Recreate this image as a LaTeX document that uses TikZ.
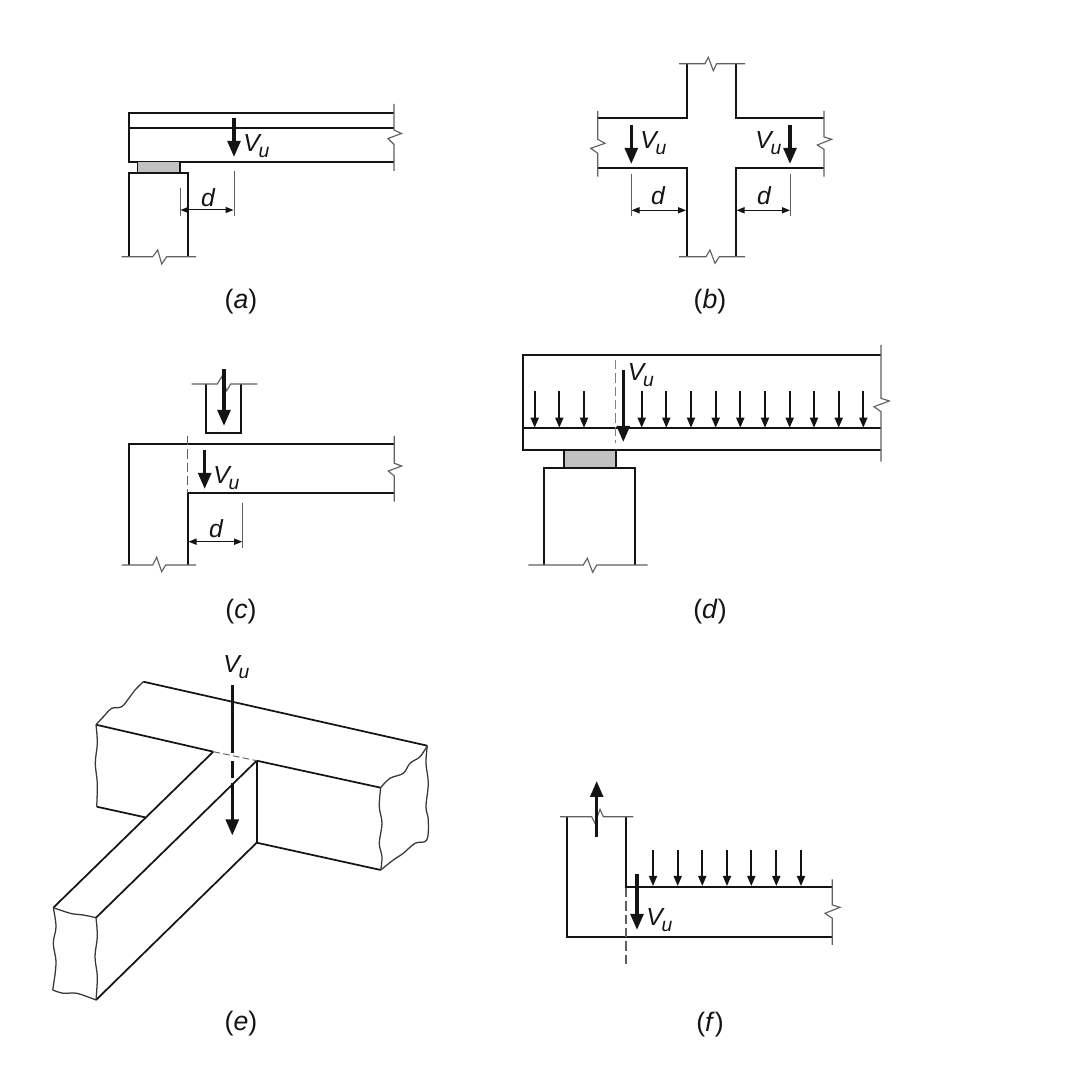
\documentclass[tikz,border=0pt]{standalone}
\usepackage{fontspec}
\setmainfont{Liberation Sans}
\usetikzlibrary{arrows.meta}
\definecolor{ink}{HTML}{141414}
\definecolor{thingray}{HTML}{606060}
\definecolor{platefill}{HTML}{C2C2C2}
\newcommand{\Vsub}{{\itshape V\kern-0.8pt\raisebox{-4.5pt}{\fontsize{14.5}{14.5}\selectfont u}}}
\tikzset{
  member/.style={draw=ink,line width=1.6pt,line join=miter},
  thinbreak/.style={draw=thingray,line width=0.85pt,line join=miter},
  extline/.style={draw=thingray,line width=0.75pt},
  dimline/.style={draw=ink,line width=0.75pt,{Triangle[length=6pt,width=4.6pt]}-{Triangle[length=6pt,width=4.6pt]}},
  vload/.style={draw=ink,line width=2.5pt,-{Triangle[length=12pt,width=9.5pt]}},
  udl/.style={draw=ink,line width=1.3pt,-{Triangle[length=7.5pt,width=6pt]}},
  cutline/.style={draw=thingray,line width=0.85pt,dash pattern=on 7pt off 3pt},
  lbl/.style={font=\fontsize{18.5}{18.5}\selectfont,inner sep=0pt,text=ink},
  caplbl/.style={font=\fontsize{20}{20}\selectfont,inner sep=0pt,text=ink},
  vlbl/.style={lbl,anchor=base west},
  iso/.style={draw=ink,line width=1.3pt,line join=round},
  wavy/.style={draw=ink!85,line width=0.95pt,smooth,tension=0.6}
}
\begin{document}
\begin{tikzpicture}[x=0.75pt,y=-0.75pt]
\useasboundingbox (0,0) rectangle (1076,1069);
\fill[white] (0,0) rectangle (1076,1069);

% ---------- (a)
\draw[member] (394,112.7) -- (129,112.7) -- (129,161.7) -- (394,161.7);
\draw[member] (129,127.7) -- (394,127.7);
\draw[thinbreak] (394,104) -- (394,130) -- (401.5,133.5) -- (388,138.5) -- (394,144.5) -- (394,171);
\draw[member,fill=platefill,line width=1.1pt] (137.5,161.7) rectangle (180,173);
\draw[member] (129,256.7) -- (129,173) -- (187.7,173) -- (187.7,256.7);
\draw[thinbreak] (121.5,256.7) -- (152.7,256.7) -- (157.7,250) -- (161.7,264) -- (166.7,256.7) -- (196,256.7);
\draw[vload] (234,118) -- (234,157);
\node[vlbl] (Va) at (243,152) {\Vsub};
\draw[extline] (180,188) -- (180,216);
\draw[extline] (234,171) -- (234,216);
\draw[dimline] (180.5,210) -- (233.5,210);
\node[lbl] (da) at (208,198) {\itshape d};
\node[caplbl] (la) at (241,302) {(\textit{a})};

% ---------- (b)
\draw[member] (597.7,118.3) -- (686.7,118.3) -- (686.7,63.7);
\draw[member] (735.7,63.7) -- (735.7,118.3) -- (824,118.3);
\draw[member] (597.7,167.7) -- (686.7,167.7) -- (686.7,256.7);
\draw[member] (735.7,256.7) -- (735.7,167.7) -- (824,167.7);
\draw[thinbreak] (597.7,111) -- (597.7,139.3) -- (605,143.3) -- (590.7,148.3) -- (597.7,153.3) -- (597.7,176.7);
\draw[thinbreak] (824,111) -- (824,137) -- (831.7,139.3) -- (817.3,145) -- (824,149.3) -- (824,176.7);
\draw[thinbreak] (679,63.7) -- (705,63.7) -- (708.3,57.3) -- (713.3,70.7) -- (716.7,63.7) -- (745,63.7);
\draw[thinbreak] (679,256.7) -- (706,256.7) -- (710,250) -- (715,263.3) -- (719.3,256.7) -- (745,256.7);
\draw[vload] (631.3,125) -- (631.3,164);
\draw[vload] (790,125) -- (790,164);
\node[vlbl] (Vb1) at (640,149) {\Vsub};
\node[vlbl] (Vb2) at (755,149) {\Vsub};
\draw[extline] (631.3,174.3) -- (631.3,216);
\draw[extline] (790,174.3) -- (790,216);
\draw[dimline] (631.5,210.3) -- (686,210.3);
\draw[dimline] (736.5,210.3) -- (790,210.3);
\node[lbl] (db1) at (658,196) {\itshape d};
\node[lbl] (db2) at (764,196) {\itshape d};
\node[caplbl] (lb) at (710,302) {(\textit{b})};

% ---------- (c)
\draw[member] (206,384) -- (206,433.3) -- (241,433.3) -- (241,384);
\draw[thinbreak] (191.7,384) -- (217.3,384) -- (221.7,376.7) -- (226.7,390.7) -- (230.7,384) -- (257.3,384);
\draw[vload] (224,369.3) -- (224,426);
\draw[member] (129,565) -- (129,444) -- (394,444);
\draw[member] (187.7,565) -- (187.7,493.3) -- (394,493.3);
\draw[thinbreak] (394.3,436) -- (394.3,463.3) -- (401.7,466) -- (388.3,471) -- (394.3,476) -- (394.3,501.7);
\draw[thinbreak] (121.7,565) -- (152.7,565) -- (156.7,557.3) -- (161.7,571.7) -- (165.7,565) -- (196,565);
\draw[cutline] (187.7,436) -- (187.7,493);
\draw[vload] (204.7,450) -- (204.7,489);
\node[vlbl] (Vc) at (213,484) {\Vsub};
\draw[extline] (242.7,502.7) -- (242.7,547.7);
\draw[dimline] (188.5,541.7) -- (242.2,541.7);
\node[lbl] (dc) at (216,529) {\itshape d};
\node[caplbl] (lc) at (241,612) {(\textit{c})};

% ---------- (d)
\draw[member] (881,355.3) -- (523,355.3) -- (523,449.7) -- (881,449.7);
\draw[member] (523,428.3) -- (881,428.3);
\draw[thinbreak] (881,345) -- (881,398.3) -- (889.3,401) -- (874,406.7) -- (881,411.7) -- (881,461.7);
\draw[member,fill=platefill] (564,449.7) rectangle (615.7,467.7);
\draw[member] (544.3,565) -- (544.3,467.7) -- (634.7,467.7) -- (634.7,565);
\draw[thinbreak] (528.3,565) -- (583.3,565) -- (587.3,558.3) -- (592.7,572.3) -- (596.7,565) -- (647.7,565);
\draw[cutline,draw=gray] (615.3,360) -- (615.3,443.3);
\draw[vload] (623.3,370) -- (623.3,442);
\node[vlbl] (Vd) at (627.5,381) {\Vsub};
\foreach \x in {534.7,559.3,584,641.7,666.3,691,715.7,740.3,765,789.7,814,838.7,863.3}
  \draw[udl] (\x,391) -- (\x,427.7);
\node[caplbl] (ld) at (710,612) {(\textit{d})};

% ---------- (e)
\draw[iso] (143.3,681.7) -- (427.3,745.7);
\draw[iso] (96,724.7) -- (213.3,751.7);
\draw[iso] (256.7,760.7) -- (380.7,787.7);
\draw[iso] (96.7,806.7) -- (145,817.3);
\draw[iso] (213.3,751.7) -- (53.3,907.7);
\draw[iso] (256.7,760.7) -- (96,917.7);
\draw[iso] (256.7,760.7) -- (256.7,842.7);
\draw[iso] (256.7,842.7) -- (96,1000);
\draw[iso] (256.7,842.7) -- (380.7,870);
\draw[draw=thingray,line width=0.7pt,dash pattern=on 5pt off 2.5pt] (213.3,751.7) -- (256.7,760.7);
\draw[wavy] plot coordinates {(96,724.7) (105,715) (111.7,708.3) (121.7,706.7) (130,696.7) (135,690) (143.3,681.7)};
\draw[wavy] plot coordinates {(380.7,787.7) (390,778.3) (403.3,773.3) (410,763.3) (420,756.7) (427.3,745.7)};
\draw[wavy] plot coordinates {(427.3,745.7) (426,763.3) (428.3,783.3) (426,806.7) (428.3,820) (426.7,840) (415,843.3) (403.3,853.3) (393.3,860) (380.7,870)};
\draw[wavy] plot coordinates {(380.7,787.7) (379.3,806.7) (382,823.3) (379.3,843.3) (382,856.7) (380.7,870)};
\draw[wavy] plot coordinates {(96,724.7) (97.3,743.3) (95.3,763.3) (97.3,783.3) (96.7,806.7)};
\draw[wavy] plot coordinates {(53.3,907.7) (65,911.7) (73.3,914) (83.3,915) (96,917.7)};
\draw[wavy] plot coordinates {(53.3,907.7) (56,926.7) (53.3,943.3) (56,963.3) (52.7,990)};
\draw[wavy] plot coordinates {(52.7,990) (63.3,993.3) (76.7,993.3) (96,1000)};
\draw[wavy] plot coordinates {(96,917.7) (97.3,936.7) (95,956.7) (97.3,976.7) (96,1000)};
\draw[draw=ink,line width=2.5pt] (232.3,685) -- (232.3,753);
\draw[draw=ink,line width=2.5pt] (232.3,761) -- (232.3,778);
\draw[vload] (232.3,783) -- (232.3,835.5);
\node[vlbl] (Ve) at (223,673) {\Vsub};
\node[caplbl] (le) at (241,1024) {(\textit{e})};

% ---------- (f)
\draw[member] (626,816.7) -- (626,887.3) -- (832.3,887.3);
\draw[member] (566.7,816.7) -- (566.7,936.7) -- (832.3,936.7);
\draw[thinbreak] (832.3,879.3) -- (832.3,905) -- (840,907.3) -- (825,913.3) -- (832.3,918.3) -- (832.3,945);
\draw[thinbreak] (560,816.7) -- (591.7,816.7) -- (595,823.3) -- (600,809.3) -- (603.3,816.7) -- (633.3,816.7);
\draw[vload] (596.7,836.7) -- (596.7,781);
\foreach \x in {653,677.7,702.3,727,751.3,776.3,801}
  \draw[udl] (\x,850) -- (\x,886);
\draw[cutline] (626,888) -- (626,965);
\draw[vload] (637,874) -- (637,930);
\node[vlbl] (Vf) at (646,926) {\Vsub};
\node[caplbl] (lf) at (710,1025) {(\textit{f})};
\end{tikzpicture}
\end{document}
